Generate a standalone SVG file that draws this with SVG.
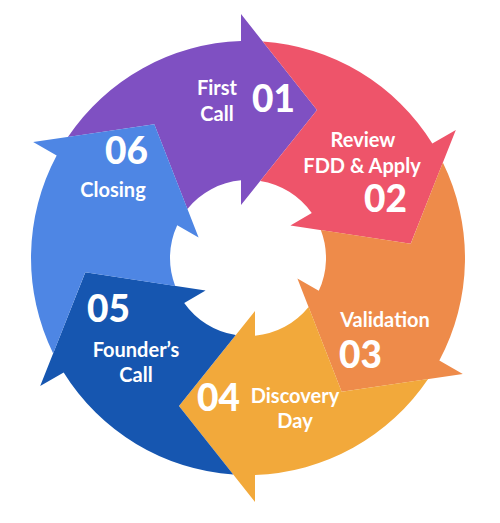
<svg xmlns="http://www.w3.org/2000/svg" xmlns:xlink="http://www.w3.org/1999/xlink" width="500" height="523" viewBox="0 0 500 523">
  <style>
    .lbl { font-family: Lato, "Open Sans", "Liberation Sans", sans-serif; font-weight: 700; font-size: 20px; fill: #ffffff; }
    .num { font-family: Lato, "Open Sans", "Liberation Sans", sans-serif; font-weight: 900; font-size: 37px; fill: #ffffff; }
    .mid { text-anchor: middle; }
  </style>
  <defs>
    <path id="arrow" d="M 67.9,137.0 A 217 217 0 0 1 241,41.11 L 241,14 L 317,110 L 241,205 L 241,180.31 A 78 78 0 0 0 187.4,208.9 L 154.3,124.2 Z"/>
  </defs>
  <rect x="0" y="0" width="500" height="523" fill="#ffffff"/>
  <g id="step01">
    <use xlink:href="#arrow" fill="#7F50C2"/>
    <text class="lbl mid" x="217" y="95">First</text>
    <text class="lbl mid" x="217" y="121">Call</text>
    <text class="num" x="252" y="112">01</text>
  </g>
  <g id="step02">
    <use xlink:href="#arrow" fill="#EE546A" transform="rotate(60 248 258)"/>
    <text class="lbl mid" x="363" y="147">Review</text>
    <text class="lbl mid" x="362" y="173">FDD &amp; Apply</text>
    <text class="num" x="364" y="212">02</text>
  </g>
  <g id="step03">
    <use xlink:href="#arrow" fill="#EE8B4A" transform="rotate(120 248 258)"/>
    <text class="lbl mid" x="385" y="327">Validation</text>
    <text class="num" x="339" y="368">03</text>
  </g>
  <g id="step04">
    <use xlink:href="#arrow" fill="#F2A93B" transform="rotate(180 248 258)"/>
    <text class="num" x="197" y="411">04</text>
    <text class="lbl mid" x="295" y="403">Discovery</text>
    <text class="lbl mid" x="295" y="428">Day</text>
  </g>
  <g id="step05">
    <use xlink:href="#arrow" fill="#1656B0" transform="rotate(240 248 258)"/>
    <text class="num" x="87" y="322">05</text>
    <text class="lbl mid" x="136" y="357">Founder’s</text>
    <text class="lbl mid" x="136" y="382">Call</text>
  </g>
  <g id="step06">
    <use xlink:href="#arrow" fill="#4E86E4" transform="rotate(300 248 258)"/>
    <text class="num" x="105" y="164">06</text>
    <text class="lbl mid" x="113" y="197">Closing</text>
  </g>
</svg>
